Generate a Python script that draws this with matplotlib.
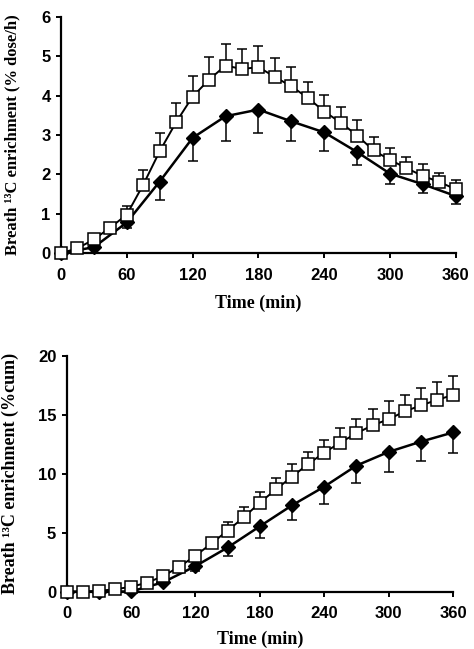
import matplotlib
matplotlib.use("Agg")
import matplotlib.pyplot as plt

# -----------------------------
# data
# -----------------------------
t_sq = [0, 15, 30, 45, 60, 75, 90, 105, 120, 135, 150, 165, 180,
        195, 210, 225, 240, 255, 270, 285, 300, 315, 330, 345, 360]
t_dm = [0, 30, 60, 90, 120, 150, 180, 210, 240, 270, 300, 330, 360]

# top panel: % dose/h
rate_sq = [0.0, 0.12, 0.35, 0.65, 0.98, 1.74, 2.59, 3.33, 3.98, 4.41, 4.77, 4.68, 4.73,
           4.48, 4.24, 3.95, 3.60, 3.32, 2.99, 2.61, 2.37, 2.16, 1.96, 1.81, 1.62]
rate_sq_err = [0, 0, 0, 0, 0.21, 0.38, 0.46, 0.49, 0.52, 0.58, 0.55, 0.52, 0.53,
               0.49, 0.48, 0.41, 0.43, 0.39, 0.39, 0.35, 0.31, 0.29, 0.30, 0.23, 0.24]
rate_dm = [0.0, 0.15, 0.78, 1.82, 2.93, 3.48, 3.65, 3.35, 3.07, 2.57, 2.02, 1.75, 1.45]
rate_dm_err = [0, 0, 0.14, 0.47, 0.59, 0.64, 0.60, 0.49, 0.48, 0.33, 0.26, 0.21, 0.19]

# bottom panel: %cum
cum_sq = [0.0, 0.0, 0.08, 0.2, 0.42, 0.76, 1.33, 2.12, 3.05, 4.1, 5.18, 6.31, 7.55,
          8.68, 9.76, 10.83, 11.8, 12.65, 13.44, 14.12, 14.63, 15.3, 15.8, 16.27, 16.69]
cum_sq_err = [0, 0, 0, 0, 0, 0, 0, 0, 0, 0, 0.76, 0.85, 0.88,
              0.94, 1.07, 1.05, 1.07, 1.21, 1.19, 1.35, 1.55, 1.39, 1.51, 1.55, 1.61]
cum_dm = [0.0, 0.0, 0.02, 0.8, 2.17, 3.75, 5.55, 7.33, 8.91, 10.7, 11.86, 12.73, 13.51]
cum_dm_err = [0, 0, 0, 0, 0.38, 0.7, 0.96, 1.25, 1.48, 1.5, 1.68, 1.63, 1.71]

xticks = [0, 60, 120, 180, 240, 300, 360]

TICK_FONT = {"family": "Liberation Sans", "weight": "bold", "size": 12}
XLABEL_FONT = {"family": "Liberation Serif", "weight": "bold", "size": 13}

fig = plt.figure(figsize=(4.74, 6.49), dpi=100)
ax1 = fig.add_axes([0.1287, 0.610, 0.833, 0.3636])
ax2 = fig.add_axes([0.1407, 0.0883, 0.815, 0.3632])


def draw(ax, ysq, esq, ydm, edm, ymax, ystep, ylabel, ylab_size, ylab_x, xlab_y):
    # diamonds, lower error bars
    ax.errorbar(t_dm, ydm, yerr=[edm, [0] * len(edm)], fmt="none", ecolor="black",
                elinewidth=1.1, capsize=3.5, capthick=1.1, zorder=2, clip_on=False)
    ax.plot(t_dm, ydm, color="black", lw=1.8, marker="D", ms=6.8,
            mfc="black", mec="black", zorder=3, clip_on=False)
    # squares, upper error bars
    ax.errorbar(t_sq, ysq, yerr=[[0] * len(esq), esq], fmt="none", ecolor="black",
                elinewidth=1.1, capsize=3.5, capthick=1.1, zorder=4, clip_on=False)
    ax.plot(t_sq, ysq, color="black", lw=1.4, marker="s", ms=9.3,
            mfc="white", mec="black", mew=1.1, zorder=5, clip_on=False)

    ax.set_xlim(0, 360)
    ax.set_ylim(0, ymax)
    ax.set_xticks(xticks)
    ax.set_yticks(range(0, ymax + 1, ystep))
    for s in ["top", "right"]:
        ax.spines[s].set_visible(False)
    for s in ["left", "bottom"]:
        ax.spines[s].set_linewidth(1.6)
    ax.tick_params(axis="x", direction="out", length=3.5, width=1.4, pad=7)
    ax.tick_params(axis="y", direction="out", length=3.5, width=1.4, pad=4)
    for lab in ax.get_xticklabels() + ax.get_yticklabels():
        lab.set_fontfamily(TICK_FONT["family"])
        lab.set_fontweight(TICK_FONT["weight"])
        lab.set_fontsize(TICK_FONT["size"])
    ax.set_xlabel("Time (min)", fontdict=XLABEL_FONT)
    ax.set_ylabel(ylabel, family="Liberation Serif", weight="bold", size=ylab_size)
    ax.yaxis.set_label_coords(ylab_x, 0.5)
    ax.xaxis.set_label_coords(0.5, xlab_y)


draw(ax1, rate_sq, rate_sq_err, rate_dm, rate_dm_err, 6, 1,
     "Breath \u00b9\u00b3C enrichment (% dose/h)", 12, -0.104, -0.175)
draw(ax2, cum_sq, cum_sq_err, cum_dm, cum_dm_err, 20, 5,
     "Breath \u00b9\u00b3C enrichment (%cum)", 13, -0.124, -0.165)

fig.savefig("out.png", dpi=100)
